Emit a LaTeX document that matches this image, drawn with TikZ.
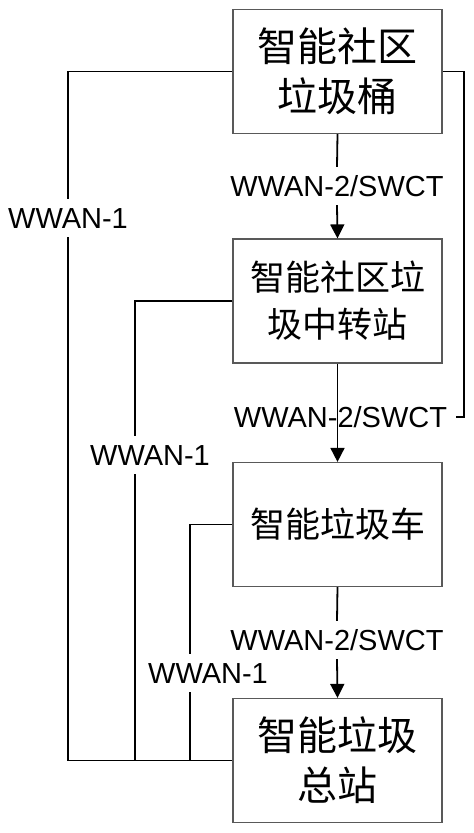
\documentclass[tikz,border=0pt]{standalone}
\usepackage{fontspec}
\setmainfont{Liberation Sans}
\newfontfamily\cjk{Noto Sans CJK SC}
\usetikzlibrary{arrows.meta}

\tikzset{
  unit/.style={shape=rectangle,draw=black!65,line width=1.2pt,minimum width=209pt,minimum height=124pt,align=center,inner sep=0pt},
  big/.style={font=\cjk\fontsize{40}{50}\selectfont},
  small/.style={font=\cjk\fontsize{35}{47}\selectfont},
  link/.style={font=\fontsize{29}{30}\selectfont,text height=20pt,text depth=0pt,inner sep=9pt},
  wire/.style={line width=1.8pt},
  down/.style={wire,-{Triangle[length=14pt,width=14pt]}}
}

\begin{document}
\begin{tikzpicture}[x=1pt,y=-1pt]
\useasboundingbox (0,0) rectangle (474,833);

\node[unit,big] (bin) at (337.5,71.5) {智能社区\\垃圾桶};
\node[unit,small] (station) at (337.5,301) {智能社区垃\\圾中转站};
\node[unit,small] (truck) at (337.5,524.5) {智能垃圾车};
\node[unit,big] (hq) at (337.5,760.5) {智能垃圾\\总站};

\node[link] (l1) at (337,186) {WWAN-2/SWCT};
\node[link] (l2) at (340.5,417) {WWAN-2/SWCT};
\node[link] (l3) at (337,640) {WWAN-2/SWCT};
\node[link] (w1) at (68,218) {WWAN-1};
\node[link] (w2) at (150,455) {WWAN-1};
\node[link] (w3) at (208,673) {WWAN-1};

% wireless links down the chain
\draw[wire] (bin.south) -- (l1.north);
\draw[down] (l1.south) -- (station.north);
\draw[down] (station.south) -- (truck.north);
\draw[wire] (truck.south) -- (l3.north);
\draw[down] (l3.south) -- (hq.north);
\draw[wire] (bin.east) -- ++(21,0) |- (l2.east);

% WWAN-1 to the main station
\draw[wire] (bin.west) -| (w1.north);
\draw[wire] (w1.south) |- (hq.west);
\draw[wire] (station.west) -| ([xshift=-15pt]w2.north);
\draw[wire] ([xshift=-15pt]w2.south) |- (hq.west);
\draw[wire] (truck.west) -| ([xshift=-18pt]w3.north);
\draw[wire] ([xshift=-18pt]w3.south) |- (hq.west);
\end{tikzpicture}
\end{document}
